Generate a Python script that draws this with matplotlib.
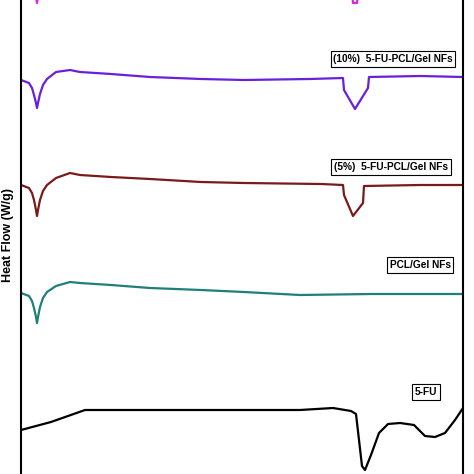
import matplotlib.pyplot as plt

# x in image-like temperature units, y = heat flow offset (downwards positive)
mag_x = [0, 12, 14, 16, 18, 20, 60, 320, 330, 332, 334, 336, 338, 442]
mag_y = [-20, -20, -10, 3, -10, -20, -20, -20, -20, 3, 3, 3, -20, -20]

p10_x = [0, 8, 11, 13, 15, 16, 17, 19, 22, 26, 35, 49, 59, 90, 129, 180, 223, 289, 322, 323, 334, 347, 348, 399, 442]
p10_y = [80, 83, 88, 95, 103, 108, 103, 94, 85, 79, 72, 70, 72, 74, 77, 79, 80, 79, 78, 90, 109, 88, 77, 76, 77]

p5_x = [0, 8, 11, 13, 15, 16, 17, 19, 22, 26, 35, 49, 59, 90, 129, 180, 223, 300, 322, 323, 332, 342, 343, 399, 442]
p5_y = [185, 188, 193, 200, 210, 216, 210, 200, 191, 185, 178, 173, 175, 177, 179, 182, 183, 184, 185, 195, 216, 203, 186, 185, 185]

pcl_x = [0, 8, 11, 13, 15, 16, 17, 19, 22, 26, 35, 49, 59, 90, 129, 180, 223, 279, 350, 442]
pcl_y = [293, 296, 301, 308, 317, 323, 317, 307, 298, 292, 286, 282, 283, 285, 288, 290, 292, 295, 294, 294]

fu_x = [0, 30, 64, 120, 200, 279, 312, 330, 335, 338, 341, 344, 350, 358, 367, 379, 393, 404, 414, 424, 434, 442]
fu_y = [430, 422, 410, 410, 410, 410, 408, 411, 414, 440, 466, 470, 455, 433, 424, 423, 425, 436, 437, 433, 420, 408]

curves = [
    (mag_x, mag_y, '#e020e0', None, None),
    (p10_x, p10_y, '#6a1fd8', '(10%)  5-FU-PCL/Gel NFs', (372, 59)),
    (p5_x, p5_y, '#7a1a1a', '(5%)  5-FU-PCL/Gel NFs', (370, 167)),
    (pcl_x, pcl_y, '#1f7f7a', 'PCL/Gel NFs', (399, 265)),
    (fu_x, fu_y, 'black', '5-FU', (405, 392)),
]

fig = plt.figure(figsize=(4.74, 4.74), dpi=100)
ax = fig.add_axes([21 / 474, -10 / 474, 442 / 474, 494 / 474])

for xs, ys, colour, label, pos in curves:
    ax.plot(xs, ys, color=colour, lw=1.6)
    if label:
        ax.text(pos[0], pos[1], label, ha='center', va='center', fontsize=7.3,
                fontweight='bold', family='Liberation Sans',
                bbox=dict(boxstyle='square,pad=0.25', fc='white', ec='black', lw=0.8))

ax.set_xlim(0, 442)
ax.set_ylim(484, -10)
ax.set_xticks([])
ax.set_yticks([])
for s in ax.spines.values():
    s.set_linewidth(1.5)
fig.text(8 / 474, 1 - 235 / 474, 'Heat Flow (W/g)', rotation=90, ha='center', va='center',
         fontsize=9, fontweight='bold', family='Liberation Sans')

fig.savefig('out.png', dpi=100)
